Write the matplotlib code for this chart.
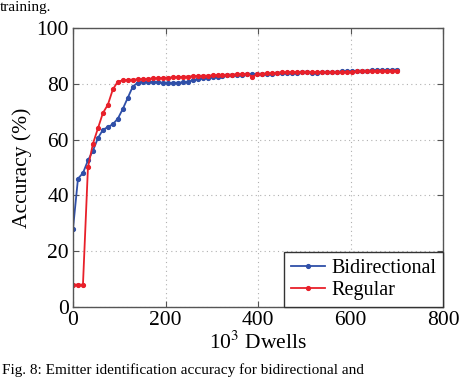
import matplotlib
matplotlib.use("Agg")
import matplotlib.pyplot as plt
import numpy as np

plt.rcParams["font.family"] = ["Liberation Serif", "DejaVu Serif"]
plt.rcParams["mathtext.fontset"] = "stix"

# 66 checkpoints between 0 and 700 (x 10^3 dwells)
dwells = np.linspace(0, 700, 66)

bidirectional = [
    28.0, 46.0, 48.0, 52.5, 56.0, 60.5, 63.5, 64.5, 65.5, 67.5,
    71.0, 75.0, 79.0, 80.4, 80.8, 80.8, 80.6, 80.5, 80.4, 80.4,
    80.3, 80.4, 80.5, 80.7, 81.2, 81.7, 82.0, 82.2, 82.4, 82.6,
    82.8, 83.0, 83.1, 83.2, 83.3, 83.4, 83.6, 83.4, 83.4, 83.5,
    83.6, 83.7, 83.8, 83.9, 84.0, 84.0, 84.1, 84.1, 84.0, 84.0,
    84.1, 84.1, 84.2, 84.3, 84.4, 84.4, 84.5, 84.6, 84.7, 84.7,
    84.8, 84.8, 84.8, 84.9, 85.0, 85.1,
]
regular = [
    8.0, 8.0, 8.0, 50.0, 58.5, 64.0, 69.5, 72.5, 78.0, 80.8,
    81.2, 81.4, 81.5, 81.6, 81.7, 81.8, 81.9, 82.0, 82.1, 82.2,
    82.3, 82.4, 82.5, 82.6, 82.7, 82.8, 82.9, 82.9, 83.0, 83.1,
    83.2, 83.2, 83.3, 83.4, 83.4, 83.5, 82.6, 83.5, 83.6, 83.7,
    83.8, 84.0, 84.1, 84.1, 84.2, 84.2, 84.3, 84.3, 84.2, 84.2,
    84.2, 84.1, 84.1, 84.1, 84.2, 84.2, 84.3, 84.4, 84.5, 84.5,
    84.5, 84.5, 84.5, 84.6, 84.6, 84.6,
]

fig = plt.figure(figsize=(4.74, 3.78), dpi=100)
ax = fig.add_axes([0.154, 0.188, 0.781, 0.738])

ax.plot(dwells, bidirectional, "-", marker=".", ms=5.5, lw=1.3,
        color="#2f4fa8", label="Bidirectional")
ax.plot(dwells, regular, "-", marker=".", ms=5.5, lw=1.3,
        color="#e8202a", label="Regular")

ax.set_xlim(0, 800)
ax.set_ylim(0, 100)
ax.set_xticks([0, 200, 400, 600, 800])
ax.set_yticks([0, 20, 40, 60, 80, 100])
ax.grid(True, linestyle=(0, (1, 3)), color="#b0b0b0", lw=0.8)
ax.tick_params(direction="in", top=True, right=True, labelsize=15.5,
               length=4, color="#555555", pad=3)
for s in ax.spines.values():
    s.set_color("#555555")
    s.set_linewidth(1.0)

ax.set_xlabel("10$^3$ Dwells", fontsize=15.5, labelpad=1)
ax.set_ylabel("Accuracy (%)", fontsize=15.5, labelpad=3)

leg = ax.legend(loc="lower right", fontsize=14.5, fancybox=False,
                framealpha=1, edgecolor="#333333", borderpad=0.35,
                handlelength=1.7, handletextpad=0.3, labelspacing=0.15,
                borderaxespad=0)
leg.get_frame().set_linewidth(1.0)

# caption fragments at the crop edges
fig.text(0.0, 0.998, "training.", fontsize=11, va="top", ha="left")
fig.text(0.005, 0.003, "Fig. 8: Emitter identification accuracy for bidirectional and",
         fontsize=11, va="bottom", ha="left")

fig.savefig("out.png", dpi=100)
